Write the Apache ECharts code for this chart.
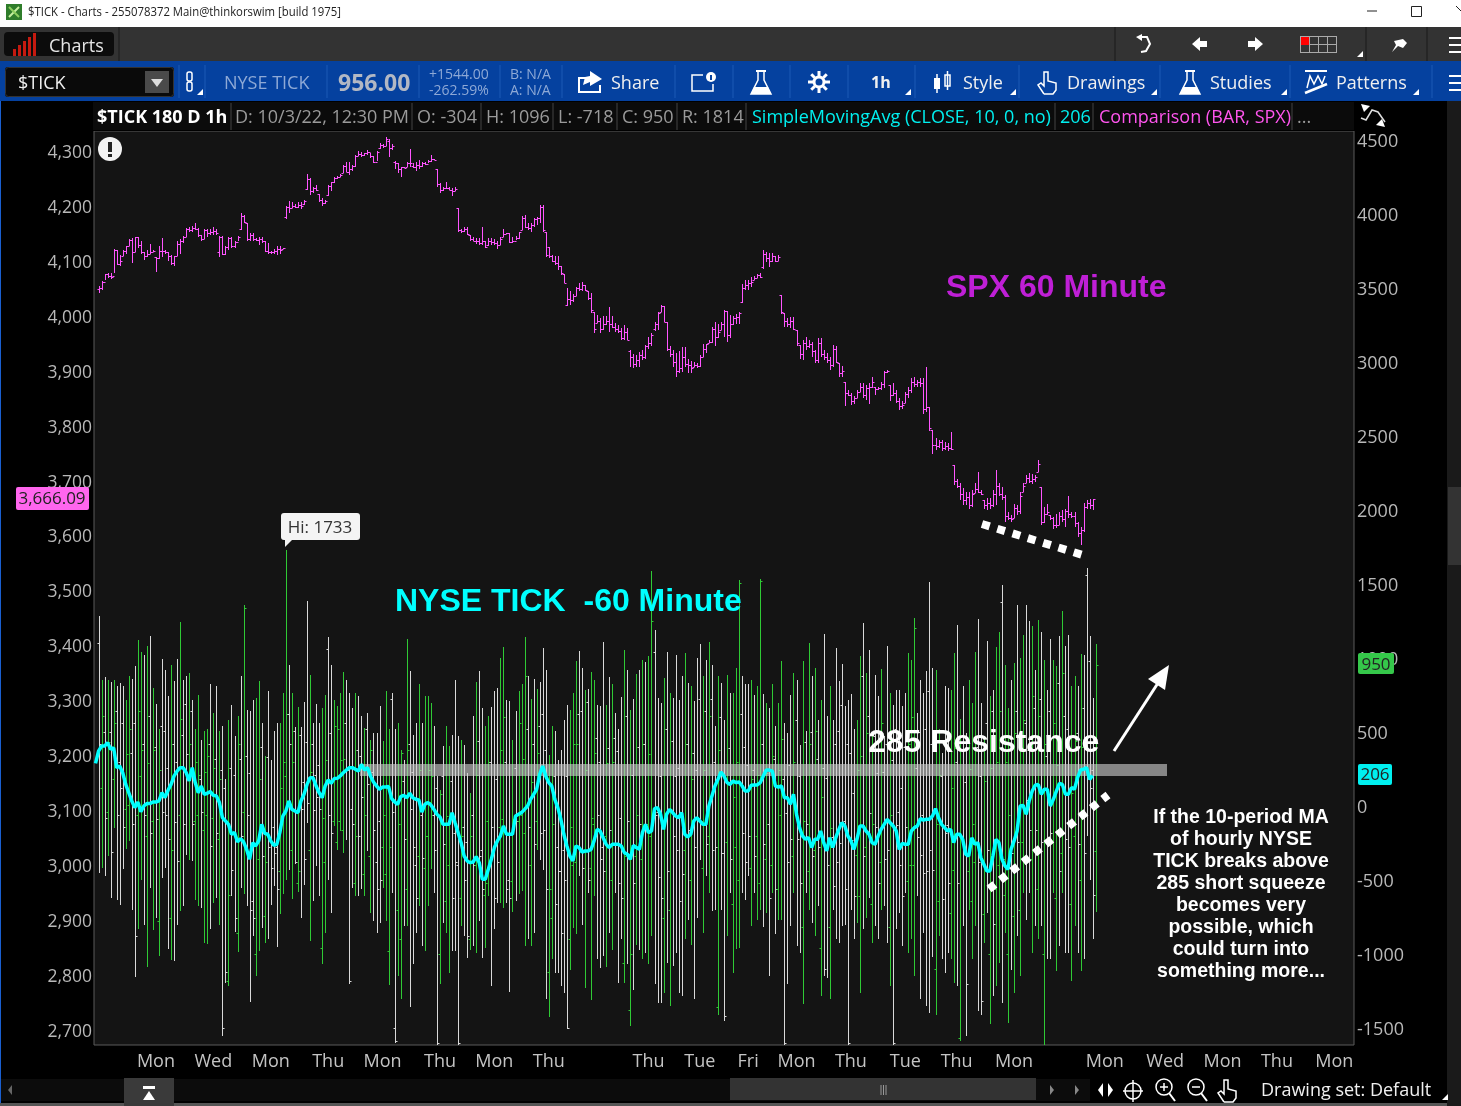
<!DOCTYPE html>
<html>
<head>
<meta charset="utf-8">
<title>$TICK</title>
<script src="https://cdn.jsdelivr.net/npm/echarts@6/dist/echarts.min.js"></script>
<style>
html,body{margin:0;padding:0;background:#000;overflow:hidden}
#chart{width:1461px;height:1106px}
</style>
</head>
<body>
<div id="chart"></div>
<script>
// x axis day names and the bar slot each one sits on
var dayNames = ['Mon','Wed','Mon','Thu','Mon','Thu','Mon','Thu','Thu','Tue','Fri','Mon','Thu','Tue','Thu','Mon','Mon','Wed','Mon','Thu','Mon'];
var daySlots = [20,39,58,77,95,114,132,150,183,200,216,232,250,268,285,304,334,354,373,391,410];
var spxTicks = [2700,2800,2900,3000,3100,3200,3300,3400,3500,3600,3700,3800,3900,4000,4100,4200,4300];
var tickTicks = [-1500,-1000,-500,0,500,1000,1500,2000,2500,3000,3500,4000,4500];

// SPX 60 minute bars (left axis)
var spxOpen = [4048,4050,4062,4075,4072,4072,4119,4094,4109,
4118,4126,4138,4115,4144,4128,4116,4108,4113,4116,
4107,4105,4118,4118,4116,4108,4096,4109,4130,4135,
4144,4158,4156,4160,4157,4146,4140,4156,4150,4152,
4154,4115,4144,4112,4125,4142,4126,4134,4158,4182,
4168,4140,4146,4140,4138,4140,4135,4118,4116,4115,
4118,4122,4121,4180,4198,4196,4200,4198,4202,4203,
4230,4248,4226,4232,4221,4210,4205,4220,4236,4243,
4250,4252,4259,4272,4262,4266,4272,4291,4294,4292,
4296,4298,4290,4280,4305,4310,4309,4318,4305,4280,
4277,4266,4270,4270,4278,4272,4270,4274,4272,
4278,4276,4281,4285,4266,4240,4228,4232,4233,4229,
4226,4195,4155,4154,4158,4147,4140,4136,4135,4133,
4135,4128,4136,4134,4132,4128,4144,4149,4150,
4134,4135,4142,4156,4178,4162,4160,4165,4175,4178,
4198,4153,4125,4108,4100,4095,4090,4076,4020,4030,
4028,4035,4050,4048,4056,4044,4032,4007,3986,3990,
3975,3985,3990,3985,3980,3975,3972,3960,3970,3936,
3925,3912,3920,3928,3925,3945,3950,3975,3985,4006,
4017,3989,3940,3930,3915,3900,3905,3925,3912,3910,
3907,3910,3908,3925,3940,3950,3952,3975,3962,3974,
3985,4008,3965,3985,3995,3998,4025,4050,4055,4060,
4064,4068,4074,4088,4112,4105,4100,4108,4100,4037,
4004,3990,3985,3990,3974,3947,3930,3950,3945,3948,
3935,3920,3950,3930,3925,3920,3910,3940,3913,3895,
3880,3860,3855,3845,3851,3862,3870,3855,3868,3870,
3871,3866,3868,3875,3898,3874,3855,3860,3845,3835,
3841,3858,3865,3880,3875,3880,3878,3830,3834,3792,
3765,3762,3770,3760,3762,3760,3728,3700,3690,3675,
3665,3670,3655,3677,3685,3680,3665,3655,3660,3655,
3675,3690,3675,3670,3635,3632,3631,3650,3645,3680,
3695,3705,3700,3702,3716,3688,3625,3640,3637,3632,
3620,3620,3635,3630,3645,3640,3635,3622,3605,3610,
3652,3660,3655];
var spxHigh = [4054,4063,4076,4078,4077,4121,4119,4110,4119,
4127,4139,4141,4144,4144,4135,4116,4119,4130,4119,
4107,4126,4141,4119,4116,4110,4109,4136,4139,4145,
4159,4162,4163,4168,4159,4147,4157,4157,4157,4161,
4157,4145,4145,4127,4144,4144,4135,4145,4186,4183,
4168,4150,4151,4141,4143,4144,4135,4132,4118,4122,
4126,4126,4124,4200,4209,4207,4203,4207,4207,4211,
4258,4250,4235,4238,4221,4214,4211,4238,4244,4253,
4254,4258,4274,4280,4280,4274,4292,4299,4297,4296,
4302,4296,4291,4300,4314,4312,4325,4321,4312,4282,
4277,4271,4271,4279,4303,4277,4280,4283,4280,
4280,4283,4292,4285,4266,4241,4235,4243,4235,4232,
4234,4195,4157,4162,4162,4147,4143,4141,4141,4161,
4135,4141,4141,4139,4135,4143,4157,4150,4150,
4143,4145,4153,4181,4183,4168,4168,4177,4180,4201,
4201,4153,4125,4111,4108,4108,4091,4076,4050,4044,
4040,4053,4060,4062,4056,4044,4041,4007,4001,3995,
4000,4000,4015,4000,3987,3983,3977,3983,3977,3938,
3930,3928,3933,3938,3947,3962,3968,3989,4007,4020,
4017,3989,3944,3938,3932,3935,3943,3943,3922,3918,
3916,3913,3928,3949,3949,3956,3980,3989,3985,3989,
4010,4009,4001,4000,4003,4007,4057,4065,4065,4070,
4072,4076,4077,4119,4115,4114,4114,4108,4111,4037,
4004,3995,3997,3997,3974,3947,3956,3962,3956,3953,
3938,3959,3959,3938,3932,3925,3947,3944,3913,3908,
3880,3865,3859,3853,3865,3878,3877,3874,3877,3888,
3871,3871,3880,3900,3901,3874,3877,3865,3850,3844,
3862,3871,3886,3888,3883,3886,3886,3907,3834,3792,
3777,3774,3774,3771,3768,3789,3728,3702,3695,3686,
3680,3680,3683,3695,3716,3683,3665,3668,3668,3683,
3719,3695,3689,3674,3643,3637,3658,3655,3680,3695,
3710,3713,3712,3710,3737,3688,3652,3658,3637,3634,
3640,3643,3646,3649,3671,3643,3643,3625,3616,3660,
3664,3666,3666];
var spxLow = [4042,4047,4064,4068,4067,4078,4092,4091,4109,
4113,4126,4096,4115,4124,4113,4101,4107,4112,4115,
4080,4104,4106,4113,4100,4092,4090,4109,4113,4133,
4143,4153,4153,4155,4144,4135,4139,4143,4147,4147,
4147,4107,4110,4110,4119,4124,4123,4135,4155,4169,
4136,4135,4136,4135,4129,4132,4115,4113,4113,4112,
4110,4113,4121,4175,4186,4195,4196,4195,4194,4201,
4228,4220,4224,4226,4207,4200,4203,4218,4226,4242,
4248,4253,4259,4262,4256,4264,4271,4291,4289,4291,
4292,4286,4277,4282,4303,4305,4309,4289,4302,4266,
4259,4253,4268,4270,4271,4268,4263,4266,4270,
4274,4277,4280,4283,4235,4224,4226,4230,4228,4218,
4226,4153,4150,4153,4147,4136,4135,4130,4129,4129,
4124,4126,4129,4129,4121,4129,4144,4149,4132,
4132,4138,4139,4155,4159,4156,4153,4162,4165,4168,
4153,4106,4105,4098,4092,4083,4074,4059,4017,4020,
4025,4035,4044,4044,4044,4029,4004,3969,3986,3968,
3974,3983,3971,3977,3971,3968,3956,3956,3955,3907,
3904,3907,3906,3919,3922,3939,3944,3973,3974,4006,
3989,3936,3925,3907,3888,3895,3898,3907,3895,3895,
3907,3904,3907,3925,3932,3950,3951,3944,3960,3974,
3962,3953,3959,3983,3985,3985,4023,4047,4047,4053,
4064,4068,4068,4085,4098,4088,4098,4097,4100,4003,
3980,3979,3977,3974,3944,3922,3919,3938,3941,3925,
3913,3913,3925,3919,3913,3902,3907,3913,3889,3888,
3836,3853,3837,3839,3851,3862,3850,3847,3839,3868,
3856,3864,3865,3868,3896,3844,3853,3841,3828,3830,
3841,3850,3860,3871,3871,3871,3821,3825,3791,3749,
3756,3759,3754,3756,3754,3756,3692,3686,3665,3655,
3655,3648,3652,3677,3677,3674,3648,3646,3649,3652,
3655,3671,3665,3625,3628,3625,3631,3637,3640,3680,
3695,3695,3694,3698,3716,3619,3622,3637,3628,3611,
3613,3619,3625,3615,3631,3631,3616,3598,3583,3607,
3649,3649,3647];
var spxClose = [4050,4062,4075,4072,4070,4120,4094,4100,4118,
4126,4138,4115,4144,4128,4116,4108,4113,4116,4118,
4105,4118,4118,4116,4108,4096,4108,4130,4135,4144,
4158,4156,4160,4157,4146,4140,4156,4150,4152,4154,
4150,4144,4112,4125,4142,4126,4134,4144,4182,4170,
4140,4146,4140,4138,4140,4135,4118,4116,4115,4118,
4122,4120,4123,4198,4196,4200,4198,4202,4200,4209,
4248,4226,4232,4228,4210,4205,4208,4236,4243,4250,
4252,4256,4272,4262,4266,4272,4290,4294,4292,4296,
4298,4290,4280,4298,4310,4309,4322,4305,4308,4278,
4266,4270,4269,4278,4278,4270,4274,4272,4278,
4276,4281,4285,4284,4240,4228,4232,4233,4229,4226,
4230,4155,4154,4158,4148,4140,4136,4135,4133,4135,
4125,4136,4134,4132,4128,4140,4149,4150,4134,
4135,4142,4152,4178,4162,4160,4165,4175,4178,4198,
4155,4110,4108,4100,4095,4090,4078,4060,4030,4028,
4035,4050,4048,4056,4046,4032,4010,3975,3990,3975,
3985,3990,3985,3980,3975,3972,3960,3970,3956,3925,
3912,3920,3928,3925,3945,3950,3965,3985,4005,4018,
3989,3940,3930,3915,3900,3905,3925,3912,3910,3905,
3910,3908,3925,3940,3948,3952,3975,3962,3970,3985,
4008,3965,3985,3995,3998,4005,4050,4055,4060,4062,
4068,4074,4070,4112,4105,4100,4108,4100,4106,4006,
3990,3985,3990,3975,3950,3930,3950,3945,3948,3935,
3920,3950,3930,3925,3920,3910,3940,3915,3895,3900,
3860,3855,3845,3850,3862,3870,3855,3868,3870,3880,
3866,3868,3875,3898,3899,3855,3860,3845,3835,3838,
3858,3865,3880,3875,3880,3878,3830,3834,3795,3765,
3762,3770,3760,3762,3760,3758,3700,3690,3675,3665,
3670,3655,3675,3685,3680,3676,3655,3660,3655,3675,
3690,3675,3670,3635,3632,3630,3650,3645,3672,3690,
3705,3700,3702,3706,3730,3625,3640,3642,3632,3620,
3620,3635,3630,3645,3640,3635,3622,3605,3610,3652,
3660,3655,3666];

// NYSE TICK 60 minute bars (right axis)
var tickOpen = [1100,120,500,-40,500,180,640,300,560,-20,
10,360,560,-60,200,420,-200,610,-100,400,
-780,540,510,260,-760,420,300,-60,480,690,
180,640,-100,-60,180,-160,-60,420,-80,320,
-220,240,120,-1180,260,210,-860,320,-40,340,
220,-640,-1000,-360,400,-740,330,-220,-140,-280,
-440,-100,200,620,-300,510,-520,480,160,430,
-300,420,210,280,-960,-380,1060,490,-100,-240,
-100,-160,560,240,-20,-520,380,340,-460,520,
-340,230,-380,-100,-280,-460,-980,720,-1500,-700,
-900,170,-560,420,230,-400,-340,-60,-420,-200,
30,-60,120,-1000,200,-640,-400,170,-180,-400,
-620,-140,-240,-900,-60,-400,440,-300,-600,-100,
300,-300,180,-140,-90,300,-500,-510,260,-100,
-60,-180,520,-400,420,-100,540,620,380,-1120,
-760,200,-280,-440,-300,200,-900,-400,-380,620,
640,-300,700,-420,-120,460,300,-280,-200,390,
-500,460,370,-80,-1060,610,-1380,210,-340,400,
-360,420,-140,-200,1040,-40,200,-760,520,-700,
440,200,260,-40,-300,420,-500,360,240,720,
-420,640,-200,720,300,-1360,600,-320,-240,390,
-660,-280,-500,620,400,280,-420,240,-200,-520,
420,-360,-120,-400,320,-560,-60,180,-50,280,
-340,580,200,-820,430,-440,500,-300,320,-960,
260,190,-820,-210,420,510,680,-100,420,360,
90,-330,-610,880,-280,610,-660,470,220,-380,
230,420,-820,310,520,-40,120,400,-510,-400,
-400,260,500,-60,520,780,420,-1100,-640,200,
440,-130,-720,-430,300,-1570,430,160,-440,-640,
-380,400,200,-730,560,-1000,640,-560,-400,1380,
-600,-1000,460,-740,640,-700,-240,560,380,-360,
660,-560,720,-1000,340,640,-240,-620,830,-320,
610,520,-660,-200,490,-500,660,1560,980,240,-304];
var tickHigh = [1287,854,872,850,841,854,809,832,814,719,
877,859,944,1125,1043,1023,1084,1151,800,690,
517,990,917,746,956,843,994,1244,850,877,
899,719,517,753,449,505,521,821,625,814,
505,539,183,584,685,471,611,877,1361,647,
640,719,730,843,562,341,775,314,505,562,
562,764,1733,956,764,532,670,535,701,1388,
888,562,692,562,663,753,1143,956,719,674,
764,908,850,764,659,764,742,610,528,625,
449,494,490,674,438,780,517,764,517,562,
381,314,1129,911,483,562,827,562,746,746,
697,539,201,111,404,539,404,483,854,471,
449,415,224,89,607,836,910,663,539,607,
670,775,798,1001,1075,719,708,449,640,775,
827,1143,877,724,859,791,836,1068,922,347,
543,505,314,381,584,685,652,764,978,1046,
933,787,791,904,854,685,679,1109,685,872,
827,629,521,737,1057,922,652,724,895,922,
985,971,1012,1591,1192,730,697,866,1039,764,
730,1019,719,877,1034,832,810,708,1001,1095,
877,989,1109,956,539,881,832,580,888,764,
764,933,1530,877,827,821,854,753,809,1534,
760,697,663,827,539,697,978,562,494,753,
899,854,415,978,505,1102,877,933,584,719,
1165,607,809,584,1068,843,962,674,719,760,
517,584,1012,1237,900,1057,476,888,742,926,
471,1084,764,685,787,787,674,764,1034,989,
1271,629,854,764,911,1512,930,922,517,359,
814,798,787,1034,1224,589,809,494,850,697,
1039,1264,697,471,1113,742,787,1075,1174,1496,
956,663,854,967,1361,1001,1158,1361,1249,1215,
922,1260,1174,989,787,1129,989,944,1147,1316,
1080,1158,809,877,809,1030,1017,1609,1147,730,1096];
var tickLow = [-452,-418,-470,-339,-621,-148,-632,-666,-429,-289,
-238,-700,-1154,-830,-501,-801,-1087,-553,-839,-760,
-1015,-486,-418,-965,-1044,-1049,-801,-711,-677,-328,
-362,-373,-632,-677,-688,-925,-932,-830,-655,-621,
-801,-1555,-1195,-1218,-609,-853,-987,-553,-598,-677,
-1326,-880,-1150,-981,-823,-925,-902,-666,-541,-952,
-733,-598,-497,-434,-627,-395,-582,-756,-537,-114,
-913,-643,-407,-609,-1071,-857,-501,-722,-137,-294,
-170,-317,-227,-1200,-553,-609,-609,-560,-609,-305,
-722,-778,-857,-790,-553,-778,-1211,-587,-1600,-1150,
-1303,-812,-812,-1357,-1071,-857,-677,-947,-981,-677,
-429,-587,-1612,-1206,-790,-857,-1127,-981,-981,-1612,
-812,-879,-1026,-970,-947,-992,-778,-1026,-958,-609,
-1218,-834,-655,-655,-688,-655,-1258,-718,-640,-598,
-576,-947,-902,-947,-857,-294,-362,-434,-1307,-1424,
-1037,-1127,-1127,-1213,-1262,-1506,-1105,-823,-868,-474,
-801,-1229,-587,-1308,-609,-1037,-1094,-1015,-1087,-857,
-970,-587,-1195,-902,-1195,-1071,-1488,-1240,-936,-970,
-1037,-992,-1071,-880,-1206,-1330,-1330,-1262,-1060,-1353,
-1082,-992,-1262,-1285,-902,-767,-940,-1307,-756,-362,
-857,-474,-587,-711,-700,-1409,-700,-1454,-880,-587,
-1127,-969,-958,-587,-632,-474,-812,-587,-767,-700,
-820,-722,-1150,-587,-868,-767,-767,-1612,-1206,-812,
-587,-947,-992,-1341,-587,-700,-790,-880,-677,-1285,
-1150,-1161,-1307,-700,-902,-925,-812,-801,-1612,-700,
-902,-790,-1262,-834,-760,-621,-925,-812,-902,-700,
-677,-925,-1218,-1612,-834,-722,-947,-587,-992,-902,
-1150,-609,-1307,-857,-1352,-1398,-1020,-1409,-880,-1037,
-1127,-992,-1037,-1195,-1217,-1589,-812,-1555,-700,-1037,
-812,-1386,-1409,-925,-722,-1476,-1285,-1217,-1060,-1330,
-857,-1465,-1105,-1262,-880,-1150,-587,-767,-587,-992,
-812,-902,-812,-1612,-1037,-1037,-587,-1116,-947,-587,
-992,-992,-1184,-812,-992,-1116,-1037,-204,-497,-898,-718];
var tickClose = [420,606,-80,430,-310,560,-60,120,-140,350,
520,-120,-880,640,380,-60,290,-180,380,-90,
240,-40,-60,-220,-300,-110,-370,590,-120,350,
420,-120,300,210,-40,230,340,-270,260,-180,
180,-1500,-1120,-600,-430,-760,420,-200,1340,-60,
-700,-760,-240,180,-340,-380,-280,-420,-320,-560,
120,300,620,420,300,-380,-440,-20,-360,20,
230,-30,60,-20,-80,310,-60,-180,540,520,
310,320,260,-1180,-120,-200,-200,60,-60,150,
380,-160,-560,-500,-60,120,-280,-40,-1590,-120,
360,-220,380,-20,-280,-620,240,-350,-200,240,
200,-300,-1600,80,-260,-70,-60,-620,-380,-1600,
-200,-500,-880,-200,-400,210,-340,-560,-520,300,
-140,-620,-380,380,600,-560,-620,-90,-100,560,
320,880,-140,160,-260,360,-180,-160,-560,-560,
-120,-660,-440,-860,-500,-1500,-140,420,420,-300,
-420,240,-500,-80,360,-60,-360,-440,290,-160,
300,-260,-520,-620,-340,-100,-1000,-520,-60,-120,
420,-120,350,1250,-60,-480,-620,-60,-440,-20,
-200,-300,-640,-460,420,-160,180,-280,-80,-100,
240,-260,610,-300,-280,380,-320,-1420,160,-360,
60,300,1510,-180,-380,-200,180,-340,210,1520,
-260,220,-620,340,-560,240,450,-1600,-380,-220,
300,-220,-520,-100,-120,420,-340,510,-280,60,
-1100,-400,-150,-540,-380,-250,-120,-560,-1600,-230,
-610,240,340,-340,490,-50,-120,-140,-520,560,
-360,-300,-60,-1600,-130,-400,-610,-140,420,600,
1200,-210,-330,-450,-440,-300,-430,-120,210,-630,
-180,-520,120,390,-520,-200,-300,-1200,250,-120,
460,-380,-1320,170,-300,260,-800,300,640,-360,
300,-60,-320,490,-240,380,580,40,-160,740,
-160,610,-240,420,-260,-180,560,280,-440,900,
-220,-280,90,440,-260,400,-320,200,120,-600,950];

// SimpleMovingAvg (CLOSE, 10)
var tickMA = [288,371,405,405,428,383,394,259,270,225,
146,90,34,-11,27,-38,0,16,16,
27,27,34,90,56,106,146,203,236,259,
259,225,169,259,158,90,135,79,86,
97,72,68,23,-79,-101,-124,-191,-180,-243,
-220,-243,-293,-360,-248,-270,-236,-124,-185,-191,
-236,-266,-259,-180,-68,-34,34,-23,-34,-45,
34,79,146,191,191,135,90,56,135,176,
153,185,187,203,225,243,259,259,248,236,
281,243,259,203,162,135,113,128,128,131,
50,27,11,63,72,56,86,56,45,41,
-41,11,23,7,-23,-56,-74,-124,-124,-124,
-45,-113,-180,-248,-338,-371,-383,-378,-342,-383,
-495,-495,-428,-360,-281,-236,-203,-135,-191,-191,
-191,-68,-56,-45,-23,0,45,79,113,214,
270,203,158,135,45,-11,-90,-191,-270,-338,
-371,-270,-281,-311,-304,-304,
-293,-236,-158,-169,-214,-259,-281,-259,-259,-259,
-270,-315,-326,-360,-266,-281,-293,-180,-124,-180,
-169,-18,-11,-56,-158,-56,-23,-45,-68,-79,
-45,-191,-209,-191,-101,-79,-101,-124,-124,0,
68,135,180,230,203,158,146,169,158,162,
135,101,101,140,142,142,158,203,243,243,
236,135,128,135,56,56,11,79,-56,-146,
-203,-225,-214,-281,-225,-225,-169,-248,-304,-214,
-281,-214,-158,-113,-135,-203,-236,-293,-225,-135,
-135,-169,-191,-248,-259,-203,-158,-124,-90,-113,
-135,-169,-293,-252,-259,-259,-169,-146,-135,-86,
-95,-90,-90,-68,-18,-79,-124,-146,-169,-158,
-248,-191,-191,-225,-326,-338,-214,-259,-248,-349,
-394,-439,-439,-338,-225,-248,-360,-405,-428,-293,
-236,-169,0,4,-56,34,101,140,146,79,
113,113,0,45,101,153,146,79,79,124,
113,191,243,248,259,180,206];

var noteLines = ['If the 10-period MA','of hourly NYSE','TICK breaks above','285 short squeeze','becomes very','possible, which','could turn into','something more...'];

// header row of the chart: [text, x, colour]
var legendItems = [
    ['D: 10/3/22, 12:30 PM', 235, '#9a9a9a'],
    ['O: -304', 417, '#9a9a9a'],
    ['H: 1096', 486, '#9a9a9a'],
    ['L: -718', 558, '#9a9a9a'],
    ['C: 950', 622, '#9a9a9a'],
    ['R: 1814', 682, '#9a9a9a'],
    ['SimpleMovingAvg (CLOSE, 10, 0, no)', 752, '#00f0f0'],
    ['206', 1060, '#00f0f0'],
    ['Comparison (BAR, SPX)', 1099, '#ff55ee'],
    ['...', 1297, '#9a9a9a']
];
var legendSeps = [231,412,481,553,617,677,746,1055,1093,1292];
var toolbarSeps = [179,205,327,419,500,562,675,733,790,848,915,1019,1160,1290,1432];

var UI_FONT = '"Open Sans"';
var SLOTS = 417;

var slotNames = [];
for (var s = 0; s < SLOTS; s++) {
    slotNames.push('');
}
for (var d = 0; d < dayNames.length; d++) {
    slotNames[daySlots[d]] = dayNames[d];
}

function buildBars(o, h, l, c) {
    var rows = [];
    for (var i = 0; i < h.length; i++) {
        // slot 0 stays empty, the first bar sits one slot in
        rows.push([i + 1, o[i], h[i], l[i], c[i]]);
    }
    return rows;
}

function barRenderer(colorOf) {
    return function (params, api) {
        var slot = api.value(0);
        var x = Math.round(api.coord([slot, 0])[0]) + 0.5;
        var yO = Math.round(api.coord([slot, api.value(1)])[1]) + 0.5;
        var yH = Math.round(api.coord([slot, api.value(2)])[1]);
        var yL = Math.round(api.coord([slot, api.value(3)])[1]);
        var yC = Math.round(api.coord([slot, api.value(4)])[1]) + 0.5;
        var st = {stroke: colorOf(api.value(1), api.value(4)), lineWidth: 1};
        return {
            type: 'group',
            children: [
                {type: 'line', shape: {x1: x, y1: yH, x2: x, y2: yL}, style: st},
                {type: 'line', shape: {x1: x - 2, y1: yO, x2: x, y2: yO}, style: st},
                {type: 'line', shape: {x1: x, y1: yC, x2: x + 2, y2: yC}, style: st}
            ]
        };
    };
}

// graphic helpers
function txt(s, x, y, color, size, weight, align, family) {
    return {
        // Open Sans sits about 1.5px high in its box
        type: 'text', x: x, y: y + (family ? 2 : 3.5), z: 20,
        style: {
            text: s, fill: color,
            font: (weight || 'normal') + ' ' + size + 'px ' + (family || UI_FONT),
            textAlign: align || 'left', textVerticalAlign: 'middle'
        }
    };
}
function box(x, y, w, h, fill, z, r) {
    return {type: 'rect', z: z || 1, shape: {x: x, y: y, width: w, height: h, r: r || 0}, style: {fill: fill}};
}
function seg(x1, y1, x2, y2, color, w, z) {
    return {type: 'line', z: z || 2, shape: {x1: x1, y1: y1, x2: x2, y2: y2}, style: {stroke: color, lineWidth: w || 1}};
}
function poly(points, fill, z) {
    return {type: 'polygon', z: z || 20, shape: {points: points}, style: {fill: fill}};
}
function pline(points, color, w, z) {
    return {type: 'polyline', z: z || 20, shape: {points: points}, style: {stroke: color, fill: 'none', lineWidth: w || 1.5}};
}
function corner(x, y) {
    return poly([[x, y], [x - 6, y], [x, y - 6]], '#ffffff');
}
function flask(x, y) {
    return [
        pline([[x - 5, y - 12], [x + 5, y - 12]], '#fff', 2),
        pline([[x - 3, y - 12], [x - 3, y - 3], [x - 10, y + 11], [x + 10, y + 11], [x + 3, y - 3], [x + 3, y - 12]], '#fff', 1.5),
        poly([[x - 7, y + 4], [x + 7, y + 4], [x + 10, y + 11], [x - 10, y + 11]], '#fff')
    ];
}
function hand(x, y) {
    return pline([[x - 3, y + 11], [x - 9, y + 2], [x - 6, y], [x - 3, y + 3], [x - 3, y - 11], [x + 1, y - 11], [x + 1, y - 2], [x + 9, y], [x + 9, y + 7], [x + 6, y + 11], [x - 3, y + 11]], '#fff', 1.5);
}
function lens(x, y, mark) {
    var items = [
        {type: 'circle', z: 20, shape: {cx: x, cy: y - 3, r: 8}, style: {fill: 'none', stroke: '#fff', lineWidth: 1.5}},
        seg(x + 5, y + 3, x + 11, y + 11, '#fff', 2, 20),
        seg(x - 4, y - 3, x + 4, y - 3, '#fff', 1.5, 20)
    ];
    if (mark) {
        items.push(seg(x, y - 7, x, y + 1, '#fff', 1.5, 20));
    }
    return items;
}

function buildChrome() {
    var g = [];
    // window title bar
    g.push(box(0, 0, 1461, 27, '#ffffff'));
    g.push(box(6, 4, 16, 16, '#2f7d2b'));
    g.push(pline([[9, 17], [19, 7]], '#c8f0a0', 2));
    g.push(pline([[9, 7], [19, 17]], '#8fd060', 2));
    var title = txt('$TICK - Charts - 255078372 Main@thinkorswim [build 1975]', 28, 9, '#222', 12);
    title.scaleX = 0.945;
    g.push(title);
    g.push(seg(1367, 11, 1377, 11, '#222', 1, 20));
    g.push({type: 'rect', z: 20, shape: {x: 1411.5, y: 6.5, width: 10, height: 10}, style: {fill: 'none', stroke: '#222'}});
    g.push(seg(1456, 6, 1461, 11, '#222', 1, 20));
    // dark tab bar
    g.push(box(0, 27, 1461, 34, '#333333'));
    g.push(box(4, 32, 110, 24, '#0c0c0c', 2, 4));
    g.push(box(13, 49, 3, 7, '#c51a10', 3));
    g.push(box(18, 45, 3, 11, '#c51a10', 3));
    g.push(box(23, 41, 3, 15, '#c51a10', 3));
    g.push(box(28, 37, 3, 19, '#c51a10', 3));
    g.push(box(33, 33, 3, 23, '#c51a10', 3));
    g.push(txt('Charts', 49, 43, '#e6e6e6', 18));
    g.push(seg(119, 27, 119, 61, '#262626', 2, 3));
    g.push(seg(1115, 27, 1115, 61, '#262626', 2, 3));
    g.push(seg(1366, 27, 1366, 61, '#262626', 2, 3));
    g.push(seg(1427, 27, 1427, 61, '#262626', 2, 3));
    // undo, back, forward, grid, pin, menu
    g.push(pline([[1138, 37], [1147, 37], [1150, 44], [1146, 51], [1141, 52]], '#fff', 2));
    g.push(poly([[1136, 37], [1142, 34], [1142, 41]], '#fff'));
    g.push(poly([[1192, 44], [1200, 37], [1200, 41], [1207, 41], [1207, 47], [1200, 47], [1200, 51]], '#fff'));
    g.push(poly([[1263, 44], [1255, 37], [1255, 41], [1248, 41], [1248, 47], [1255, 47], [1255, 51]], '#fff'));
    for (var gx = 0; gx <= 4; gx++) {
        g.push(seg(1300.5 + gx * 9, 36, 1300.5 + gx * 9, 53, '#aaa', 1, 3));
    }
    g.push(seg(1300, 36.5, 1337, 36.5, '#aaa', 1, 3));
    g.push(seg(1300, 44.5, 1337, 44.5, '#aaa', 1, 3));
    g.push(seg(1300, 52.5, 1337, 52.5, '#aaa', 1, 3));
    g.push(box(1301, 37, 8, 8, '#ff0000', 4));
    g.push(corner(1363, 57));
    g.push(poly([[1403, 39], [1407, 43], [1403, 48], [1398, 46], [1392, 52], [1396, 45], [1394, 41]], '#fff'));
    for (var m = 0; m < 3; m++) {
        g.push(box(1449, 37 + m * 7, 12, 2, '#fff', 4));
        g.push(box(1449, 75 + m * 7, 12, 2, '#fff', 4));
    }
    // blue toolbar
    g.push(box(0, 61, 1461, 40, '#05419f'));
    g.push(box(5, 67, 169, 30, '#0a0a0a', 2, 3));
    g.push({type: 'rect', z: 3, shape: {x: 5.5, y: 67.5, width: 168, height: 29, r: 3}, style: {fill: 'none', stroke: '#333'}});
    g.push(txt('$TICK', 18, 80, '#f0f0f0', 18));
    g.push(box(145, 71, 24, 22, '#4a4a4a', 3));
    g.push(poly([[151, 79], [163, 79], [157, 87]], '#ddd'));
    g.push({type: 'rect', z: 20, shape: {x: 187, y: 72, width: 5, height: 9, r: 2}, style: {fill: 'none', stroke: '#fff', lineWidth: 1.5}});
    g.push({type: 'rect', z: 20, shape: {x: 187, y: 82, width: 5, height: 9, r: 2}, style: {fill: 'none', stroke: '#fff', lineWidth: 1.5}});
    g.push(corner(203, 95));
    for (var t = 0; t < toolbarSeps.length; t++) {
        g.push(seg(toolbarSeps[t], 65, toolbarSeps[t], 98, '#1d5bb5', 1, 3));
    }
    g.push(txt('NYSE TICK', 224, 80, '#8ea9d6', 18));
    g.push(txt('956.00', 338, 81, '#b2b8c4', 23, 'bold'));
    g.push(txt('+1544.00', 429, 72, '#8ea9d6', 14));
    g.push(txt('-262.59%', 429, 88, '#8ea9d6', 14));
    g.push(txt('B: N/A', 510, 72, '#8ea9d6', 14));
    g.push(txt('A: N/A', 510, 88, '#8ea9d6', 14));
    // share
    g.push(pline([[590, 78], [579, 78], [579, 92], [600, 92], [600, 85]], '#fff', 2));
    g.push(poly([[590, 71], [602, 79], [590, 86], [590, 82], [583, 85], [585, 77], [590, 76]], '#fff'));
    g.push(txt('Share', 611, 80, '#f0f0f0', 18));
    // news
    g.push(pline([[703, 75], [692, 75], [692, 91], [713, 91], [713, 84]], '#fff', 1.5));
    g.push({type: 'circle', z: 20, shape: {cx: 711, cy: 77, r: 5}, style: {fill: '#fff'}});
    g.push(box(710, 75, 2, 5, '#05419f', 21));
    g = g.concat(flask(761, 83));
    // gear
    g.push({type: 'circle', z: 20, shape: {cx: 819, cy: 82, r: 5}, style: {fill: 'none', stroke: '#fff', lineWidth: 3}});
    for (var a = 0; a < 8; a++) {
        var ang = a * Math.PI / 4;
        g.push(seg(819 + 6 * Math.cos(ang), 82 + 6 * Math.sin(ang), 819 + 11 * Math.cos(ang), 82 + 11 * Math.sin(ang), '#fff', 3, 20));
    }
    g.push(txt('1h', 871, 80, '#f0f0f0', 16, 'bold'));
    g.push(corner(911, 95));
    // style
    g.push(box(934, 78, 6, 11, '#fff', 20));
    g.push(seg(937, 74, 937, 93, '#fff', 1.5, 20));
    g.push({type: 'rect', z: 20, shape: {x: 945, y: 75, width: 5, height: 11}, style: {fill: 'none', stroke: '#fff', lineWidth: 1.5}});
    g.push(seg(947.5, 71, 947.5, 90, '#fff', 1.5, 20));
    g.push(txt('Style', 963, 80, '#f0f0f0', 18));
    g.push(corner(1016, 95));
    g.push(hand(1047, 83));
    g.push(txt('Drawings', 1067, 80, '#f0f0f0', 18));
    g.push(corner(1157, 95));
    g = g.concat(flask(1190, 83));
    g.push(txt('Studies', 1210, 80, '#f0f0f0', 18));
    g.push(corner(1287, 95));
    // patterns
    g.push(seg(1305, 71, 1327, 71, '#fff', 2, 20));
    g.push(pline([[1307, 88], [1310, 76], [1314, 84], [1318, 76], [1322, 84], [1325, 76]], '#fff', 1.5));
    g.push(seg(1305, 93, 1327, 84, '#fff', 2.5, 20));
    g.push(txt('Patterns', 1336, 80, '#f0f0f0', 18));
    g.push(corner(1419, 95));
    // legend row
    g.push(box(0, 101, 1461, 30, '#000000'));
    g.push(box(93, 102, 1261, 28, '#0b0b0b', 1));
    g.push(txt('$TICK 180 D 1h', 97, 114, '#ffffff', 18, 'bold'));
    for (var ls = 0; ls < legendSeps.length; ls++) {
        g.push(seg(legendSeps[ls], 103, legendSeps[ls], 130, '#444', 1, 3));
    }
    for (var li = 0; li < legendItems.length; li++) {
        g.push(txt(legendItems[li][0], legendItems[li][1], 114, legendItems[li][2], 18));
    }
    // shrink/expand glyph next to the legend
    g.push(pline([[1361, 118], [1366, 120], [1372, 110], [1378, 112], [1385, 122]], '#ddd', 1.5));
    g.push(poly([[1361, 104], [1370, 106], [1364, 112]], '#fff'));
    g.push(poly([[1385, 127], [1376, 125], [1382, 119]], '#fff'));
    // right scroll strip
    g.push(box(1447, 101, 14, 1005, '#1a1a1a'));
    g.push(box(1448, 487, 13, 78, '#333333', 2));
    // bottom strip
    g.push(box(0, 1079, 1090, 22, '#0c0c0c'));
    g.push(box(730, 1078, 306, 22, '#333333', 2));
    for (var gr = 0; gr < 3; gr++) {
        g.push(seg(881 + gr * 2.5, 1085, 881 + gr * 2.5, 1095, '#999', 1, 3));
    }
    g.push(box(124, 1078, 50, 28, '#3a3a3a', 3));
    g.push(box(143, 1086, 12, 3, '#fff', 4));
    g.push(poly([[149, 1091], [155, 1100], [143, 1100]], '#fff', 4));
    g.push(poly([[12, 1085], [8, 1090], [12, 1095]], '#666'));
    g.push(poly([[1050, 1085], [1054, 1090], [1050, 1095]], '#888'));
    g.push(poly([[1075, 1085], [1079, 1090], [1075, 1095]], '#888'));
    g.push(poly([[1098, 1090], [1103, 1083], [1103, 1097]], '#fff'));
    g.push(poly([[1113, 1090], [1108, 1083], [1108, 1097]], '#fff'));
    g.push({type: 'circle', z: 20, shape: {cx: 1133, cy: 1091, r: 8}, style: {fill: 'none', stroke: '#fff', lineWidth: 1.5}});
    g.push(seg(1133, 1080, 1133, 1102, '#fff', 1.5, 20));
    g.push(seg(1123, 1091, 1143, 1091, '#fff', 1.5, 20));
    g = g.concat(lens(1164, 1090, true));
    g = g.concat(lens(1196, 1090, false));
    g.push(hand(1227, 1091));
    g.push(txt('Drawing set: Default', 1261, 1087, '#f0f0f0', 18));
    g.push(corner(1448, 1100));
    g.push(box(0, 1103, 124, 3, '#555'));
    g.push(box(174, 1103, 1273, 3, '#555'));
    g.push(box(0, 101, 1, 1002, '#1a5fd0', 3));
    return g;
}

function buildNotes() {
    var g = [];
    var sans = '"Liberation Sans"';
    function big(s, x, y, color) {
        var t = txt(s, x, y, color, 32, 'bold', 'left', sans);
        t.style.shadowBlur = 3;
        t.style.shadowColor = 'rgba(0,0,0,0.8)';
        t.style.shadowOffsetX = 1;
        t.style.shadowOffsetY = 2;
        return t;
    }
    // resistance band sits between the bars and the average
    g.push({type: 'rect', z: 3, shape: {x: 360, y: 764, width: 807, height: 12}, style: {fill: 'rgba(205,205,205,0.62)'}});
    g.push(big('SPX 60 Minute', 946, 286, '#bf1fd6'));
    g.push(big('NYSE TICK  -60 Minute', 395, 600, '#00ffff'));
    g.push(big('285 Resistance', 868, 741, '#ffffff'));
    // dotted trend lines
    g.push({type: 'line', z: 8, shape: {x1: 982, y1: 524, x2: 1086, y2: 556}, style: {stroke: '#fff', lineWidth: 8, lineDash: [8, 8]}});
    g.push({type: 'line', z: 8, shape: {x1: 989, y1: 889, x2: 1108, y2: 795}, style: {stroke: '#fff', lineWidth: 8, lineDash: [7.5, 7]}});
    // arrow
    g.push(seg(1114, 751, 1158, 683, '#fff', 3, 8));
    g.push(poly([[1169, 665], [1165, 690], [1148, 679]], '#fff', 8));
    for (var n = 0; n < noteLines.length; n++) {
        g.push(txt(noteLines[n], 1241, 816 + n * 22, '#ffffff', 19.5, 'bold', 'center', sans));
    }
    // high bubble
    g.push(box(281, 513, 79, 27, '#f4f4f4', 9, 3));
    g.push(poly([[285, 540], [292, 540], [285, 547]], '#f4f4f4', 9));
    g.push(txt('Hi: 1733', 320, 525, '#333', 17, 'normal', 'center'));
    // warning sign
    g.push({type: 'circle', z: 9, shape: {cx: 110, cy: 149, r: 12}, style: {fill: '#f2f2f2'}});
    g.push(box(108, 142, 4, 10, '#222', 10));
    g.push(box(108, 154, 4, 3, '#222', 10));
    // price tags
    g.push(box(16, 487, 73, 23, '#ff66ee', 9, 2));
    g.push(txt('3,666.09', 52, 496, '#222', 17, 'normal', 'center'));
    g.push(box(1358, 653, 36, 21, '#35c74a', 9, 2));
    g.push(txt('950', 1376, 662, '#222', 17, 'normal', 'center'));
    g.push(box(1358, 764, 34, 21, '#00f0f0', 9, 2));
    g.push(txt('206', 1375, 772, '#222', 17, 'normal', 'center'));
    return g;
}

var myChart = echarts.init(document.getElementById('chart'));

var option = {
    animation: false,
    backgroundColor: '#000',
    textStyle: {fontFamily: UI_FONT},
    grid: {
        left: 94, top: 131, width: 1260, height: 914,
        show: true, backgroundColor: '#141414', borderColor: '#5a5a5a', borderWidth: 1
    },
    xAxis: {
        type: 'category',
        data: slotNames,
        boundaryGap: true,
        axisLine: {show: false},
        axisTick: {show: false},
        splitLine: {show: false},
        axisLabel: {interval: 0, color: '#c4c4c4', fontSize: 18, margin: 8, hideOverlap: false}
    },
    yAxis: [{
        type: 'value',
        position: 'left',
        min: 2673, max: 4336,
        splitLine: {show: false},
        axisLine: {show: false},
        axisTick: {show: false},
        axisLabel: {
            customValues: spxTicks, margin: 2,
            formatter: function (v) { return '{a|' + echarts.format.addCommas(v) + '}'; },
            // top padding pushes the digits down onto the tick position
            rich: {a: {color: '#b8b8b8', fontSize: 17.5, padding: [4, 0, 0, 0]}}
        }
    }, {
        type: 'value',
        position: 'right',
        min: -1615, max: 4561,
        splitLine: {show: false},
        axisLine: {show: false},
        axisTick: {show: false},
        axisLabel: {
            customValues: tickTicks, margin: 3,
            formatter: function (v) { return '{a|' + v + '}'; },
            rich: {a: {color: '#b8b8b8', fontSize: 18, padding: [3, 0, 0, 0]}}
        }
    }],
    series: [{
        name: 'SPX',
        type: 'custom',
        yAxisIndex: 0,
        z: 2,
        renderItem: barRenderer(function () { return '#ff55ff'; }),
        encode: {x: 0, y: [2, 3]},
        data: buildBars(spxOpen, spxHigh, spxLow, spxClose)
    }, {
        name: '$TICK',
        type: 'custom',
        yAxisIndex: 1,
        z: 2,
        clip: true,
        renderItem: barRenderer(function (o, c) { return c > o ? '#2fca35' : '#d9d9d9'; }),
        encode: {x: 0, y: [2, 3]},
        data: buildBars(tickOpen, tickHigh, tickLow, tickClose)
    }, {
        name: 'SimpleMovingAvg',
        type: 'line',
        yAxisIndex: 1,
        z: 5,
        symbol: 'none',
        lineStyle: {color: '#00ffff', width: 3.5},
        data: tickMA
    }],
    graphic: {elements: buildChrome().concat(buildNotes())}
};

myChart.setOption(option);
</script>
</body>
</html>
